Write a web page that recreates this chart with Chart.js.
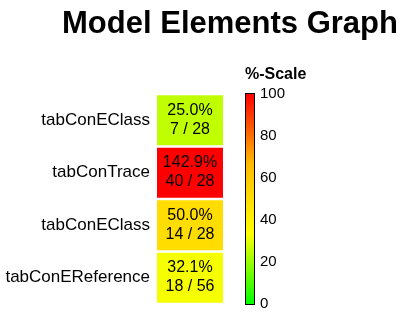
<!DOCTYPE html>
<html>
<head>
<meta charset="utf-8">
<script src="https://cdn.jsdelivr.net/npm/chart.js@4/dist/chart.umd.min.js"></script>
<style>
    body { margin: 0; background: #ffffff; }
    #wrap { width: 413px; height: 318px; }
</style>
</head>
<body>
<div id="wrap"><canvas id="modelChart"></canvas></div>
<script>
// Data
const elementNames = ['tabConEClass', 'tabConTrace', 'tabConEClass', 'tabConEReference'];
const foundCounts = [7, 40, 14, 18];
const totalCounts = [28, 28, 28, 56];
const scaleTicks = [0, 20, 40, 60, 80, 100];

// Farbverlauf gruen -> gelb -> orange -> rot
const colorStops = [
    [0, [0, 255, 0]],
    [1 / 3, [255, 255, 0]],
    [2 / 3, [255, 187, 0]],
    [1, [255, 0, 0]]
];

function colorForPercent(p) {
    let t = Math.max(0, Math.min(1, p / 100));
    for (let i = 1; i < colorStops.length; i++) {
        const a = colorStops[i - 1], b = colorStops[i];
        if (t <= b[0]) {
            const f = (t - a[0]) / (b[0] - a[0]);
            const c = a[1].map((v, k) => Math.round(v + (b[1][k] - v) * f));
            return `rgb(${c[0]},${c[1]},${c[2]})`;
        }
    }
    return 'rgb(255,0,0)';
}

const percents = foundCounts.map((f, i) => f / totalCounts[i] * 100);

// Text in den Zellen, Titel und Farbskala
const cellPlugin = {
    id: 'cellPlugin',
    afterDatasetsDraw(chart) {
        const ctx = chart.ctx;
        const meta = chart.getDatasetMeta(0);
        const x = chart.scales.x;
        const yc = chart.scales.yc;

        ctx.save();
        ctx.fillStyle = '#000000';
        ctx.textAlign = 'center';
        ctx.textBaseline = 'middle';
        ctx.font = '16px "Liberation Sans", Arial, sans-serif';
        meta.data.forEach((bar, i) => {
            const cx = (bar.base + bar.x) / 2;
            ctx.fillText(percents[i].toFixed(1) + '%', cx, bar.y - 10);
            ctx.fillText(foundCounts[i] + ' / ' + totalCounts[i], cx, bar.y + 9);
        });

        // Farbskala
        const left = x.getPixelForValue(1.333);
        const right = x.getPixelForValue(1.485);
        const top = yc.getPixelForValue(100);
        const bottom = yc.getPixelForValue(0);
        const grad = ctx.createLinearGradient(0, bottom, 0, top);
        colorStops.forEach(s => grad.addColorStop(s[0], `rgb(${s[1].join(',')})`));
        ctx.fillStyle = grad;
        ctx.fillRect(left, top, right - left, bottom - top);
        ctx.strokeStyle = '#000000';
        ctx.lineWidth = 1;
        ctx.strokeRect(Math.round(left) + 0.5, Math.round(top) - 0.5, Math.round(right - left) - 1, Math.round(bottom - top) + 1);

        // Ueberschriften
        ctx.fillStyle = '#000000';
        ctx.textAlign = 'left';
        ctx.textBaseline = 'alphabetic';
        ctx.font = 'bold 16px "Liberation Sans", Arial, sans-serif';
        ctx.fillText('%-Scale', left, top - 15);

        ctx.textAlign = 'center';
        ctx.font = 'bold 31px "Liberation Sans", Arial, sans-serif';
        ctx.fillText('Model Elements Graph', 230, 33);
        ctx.restore();
    }
};

// Achsen ohne zusaetzlichen Rand oben/unten
function fixWidth(w) {
    return function (scale) {
        scale.width = w;
        scale.paddingTop = 0;
        scale.paddingBottom = 0;
    };
}

const ctxModel = document.getElementById('modelChart').getContext('2d');
let modelChart = new Chart(ctxModel, {
    type: 'bar',
    data: {
        labels: elementNames,
        datasets: [{
            data: elementNames.map(() => [0, 1]),
            backgroundColor: percents.map(colorForPercent),
            borderWidth: 0,
            categoryPercentage: 1.0,
            barPercentage: 0.95
        }]
    },
    options: {
        indexAxis: 'y',
        responsive: true,
        maintainAspectRatio: false,
        animation: false,
        layout: { padding: { top: 94, bottom: 14, left: 0, right: 0 } },
        plugins: {
            legend: { display: false },
            tooltip: { enabled: false },
            title: { display: false }
        },
        scales: {
            x: {
                type: 'linear',
                min: 0,
                max: 1.485,
                display: false
            },
            y: {
                position: 'left',
                grid: { display: false, drawTicks: false },
                border: { display: false },
                ticks: {
                    color: '#000000',
                    padding: 7,
                    font: { family: '"Liberation Sans", Arial, sans-serif', size: 17 }
                },
                afterFit: fixWidth(157)
            },
            yc: {
                type: 'linear',
                position: 'right',
                min: 0,
                max: 100,
                offset: false,
                grid: { display: false, drawTicks: false, offset: false },
                border: { display: false },
                afterBuildTicks(scale) { scale.ticks = scaleTicks.map(v => ({ value: v })); },
                ticks: {
                    color: '#000000',
                    padding: 5,
                    font: { family: '"Liberation Sans", Arial, sans-serif', size: 15 }
                },
                afterFit: fixWidth(158)
            }
        }
    },
    plugins: [cellPlugin]
});
</script>
</body>
</html>
